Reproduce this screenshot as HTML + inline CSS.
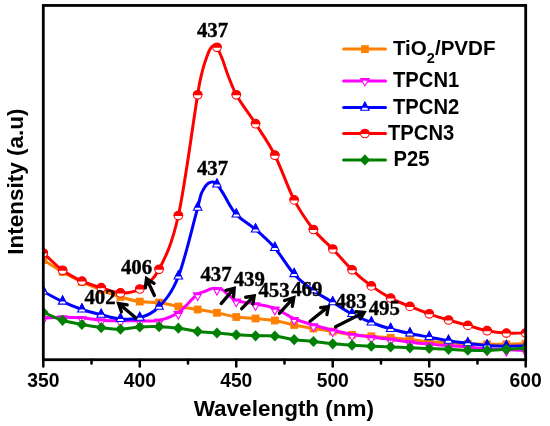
<!DOCTYPE html>
<html><head><meta charset="utf-8"><style>
html,body{margin:0;padding:0;background:#fff;}
body{width:550px;height:426px;overflow:hidden;}
svg{display:block;will-change:transform;filter:blur(0.3px);}
.tk{font-family:"Liberation Sans",sans-serif;font-weight:bold;font-size:19.3px;fill:#000;}
.ax{font-family:"Liberation Sans",sans-serif;font-weight:bold;font-size:22.5px;fill:#000;}
.lg{font-family:"Liberation Sans",sans-serif;font-weight:bold;fill:#000;}
.an{font-family:"Liberation Serif",serif;font-weight:bold;font-size:20.8px;fill:#000;stroke:#000;stroke-width:0.4px;}
</style></head><body>
<svg width="550" height="426" viewBox="0 0 550 426">
<defs><clipPath id="cp"><rect x="43.30" y="5.45" width="482.40" height="354.25"/></clipPath></defs>
<g clip-path="url(#cp)"><path d="M43.30,260.00 C49.73,264.00 56.16,268.33 62.60,272.00 C69.03,275.67 75.46,279.00 81.89,282.00 C88.32,285.00 94.76,287.50 101.19,290.00 C107.62,292.50 114.05,295.07 120.48,297.00 C126.92,298.93 133.35,300.67 139.78,301.60 C146.21,302.53 152.64,301.78 159.08,302.60 C165.51,303.42 171.94,305.35 178.37,306.50 C184.80,307.65 191.24,308.45 197.67,309.50 C204.10,310.55 210.53,311.55 216.96,312.80 C223.40,314.05 229.83,316.05 236.26,317.00 C242.69,317.95 249.12,317.92 255.56,318.50 C261.99,319.08 268.42,319.42 274.85,320.50 C281.28,321.58 287.72,323.67 294.15,325.00 C300.58,326.33 307.01,327.42 313.44,328.50 C319.88,329.58 326.31,330.45 332.74,331.50 C339.17,332.55 345.60,334.00 352.04,334.80 C358.47,335.60 364.90,335.80 371.33,336.30 C377.76,336.80 384.20,337.25 390.63,337.80 C397.06,338.35 403.49,338.93 409.92,339.60 C416.36,340.27 422.79,341.27 429.22,341.80 C435.65,342.33 442.08,342.47 448.52,342.80 C454.95,343.13 461.38,343.55 467.81,343.80 C474.24,344.05 480.68,344.22 487.11,344.30 C493.54,344.38 499.97,344.42 506.40,344.30 C512.84,344.18 519.27,343.83 525.70,343.60" fill="none" stroke="#ff8000" stroke-width="3.00" stroke-linejoin="round" stroke-linecap="round"/><rect x="39.40" y="256.10" width="7.80" height="7.80" fill="#ff8000"/><rect x="58.70" y="268.10" width="7.80" height="7.80" fill="#ff8000"/><rect x="77.99" y="278.10" width="7.80" height="7.80" fill="#ff8000"/><rect x="97.29" y="286.10" width="7.80" height="7.80" fill="#ff8000"/><rect x="116.58" y="293.10" width="7.80" height="7.80" fill="#ff8000"/><rect x="135.88" y="297.70" width="7.80" height="7.80" fill="#ff8000"/><rect x="155.18" y="298.70" width="7.80" height="7.80" fill="#ff8000"/><rect x="174.47" y="302.60" width="7.80" height="7.80" fill="#ff8000"/><rect x="193.77" y="305.60" width="7.80" height="7.80" fill="#ff8000"/><rect x="213.06" y="308.90" width="7.80" height="7.80" fill="#ff8000"/><rect x="232.36" y="313.10" width="7.80" height="7.80" fill="#ff8000"/><rect x="251.66" y="314.60" width="7.80" height="7.80" fill="#ff8000"/><rect x="270.95" y="316.60" width="7.80" height="7.80" fill="#ff8000"/><rect x="290.25" y="321.10" width="7.80" height="7.80" fill="#ff8000"/><rect x="309.54" y="324.60" width="7.80" height="7.80" fill="#ff8000"/><rect x="328.84" y="327.60" width="7.80" height="7.80" fill="#ff8000"/><rect x="348.14" y="330.90" width="7.80" height="7.80" fill="#ff8000"/><rect x="367.43" y="332.40" width="7.80" height="7.80" fill="#ff8000"/><rect x="386.73" y="333.90" width="7.80" height="7.80" fill="#ff8000"/><rect x="406.02" y="335.70" width="7.80" height="7.80" fill="#ff8000"/><rect x="425.32" y="337.90" width="7.80" height="7.80" fill="#ff8000"/><rect x="444.62" y="338.90" width="7.80" height="7.80" fill="#ff8000"/><rect x="463.91" y="339.90" width="7.80" height="7.80" fill="#ff8000"/><rect x="483.21" y="340.40" width="7.80" height="7.80" fill="#ff8000"/><rect x="502.50" y="340.40" width="7.80" height="7.80" fill="#ff8000"/><rect x="521.80" y="339.70" width="7.80" height="7.80" fill="#ff8000"/><path d="M43.30,318.00 C49.73,317.73 56.16,317.23 62.60,317.20 C69.03,317.17 75.46,317.30 81.89,317.80 C88.32,318.30 94.76,319.72 101.19,320.20 C107.62,320.68 114.05,320.62 120.48,320.70 C126.92,320.78 133.35,320.75 139.78,320.70 C146.21,320.65 152.64,321.75 159.08,320.40 C165.51,319.05 171.94,317.00 178.37,312.60 C184.80,308.20 191.24,299.12 197.67,294.00 C200.11,292.05 202.56,292.35 205.00,291.40 C206.67,290.75 208.33,289.76 210.00,289.20 C211.50,288.69 213.00,288.33 214.50,288.20 C215.32,288.13 216.14,288.46 216.96,288.60 C218.64,288.89 220.32,288.60 222.00,289.50 C224.00,290.57 226.00,292.99 228.00,294.50 C230.75,296.59 233.51,299.35 236.26,300.30 C242.69,302.52 249.12,302.65 255.56,304.00 C261.99,305.35 268.42,305.97 274.85,308.40 C281.28,310.83 287.72,315.83 294.15,318.60 C300.58,321.37 307.01,323.07 313.44,325.00 C319.88,326.93 326.31,328.62 332.74,330.20 C339.17,331.78 345.60,333.37 352.04,334.50 C358.47,335.63 364.90,336.18 371.33,337.00 C377.76,337.82 384.20,338.53 390.63,339.40 C397.06,340.27 403.49,341.43 409.92,342.20 C416.36,342.97 422.79,343.40 429.22,344.00 C435.65,344.60 442.08,345.30 448.52,345.80 C454.95,346.30 461.38,346.47 467.81,347.00 C474.24,347.53 480.68,348.53 487.11,349.00 C493.54,349.47 499.97,349.55 506.40,349.80 C512.84,350.05 519.27,350.27 525.70,350.50" fill="none" stroke="#ff00ff" stroke-width="3.00" stroke-linejoin="round" stroke-linecap="round"/><path d="M39.05,316.95 L47.55,316.95 L43.30,324.45 Z" fill="#fff" stroke="#ff00ff" stroke-width="1.10"/><path d="M38.50,316.40 L48.10,316.40 L46.22,319.30 L40.38,319.30 Z" fill="#ff00ff"/><path d="M58.35,316.15 L66.85,316.15 L62.60,323.65 Z" fill="#fff" stroke="#ff00ff" stroke-width="1.10"/><path d="M57.80,315.60 L67.40,315.60 L65.51,318.50 L59.68,318.50 Z" fill="#ff00ff"/><path d="M77.64,316.75 L86.14,316.75 L81.89,324.25 Z" fill="#fff" stroke="#ff00ff" stroke-width="1.10"/><path d="M77.09,316.20 L86.69,316.20 L84.81,319.10 L78.97,319.10 Z" fill="#ff00ff"/><path d="M96.94,319.15 L105.44,319.15 L101.19,326.65 Z" fill="#fff" stroke="#ff00ff" stroke-width="1.10"/><path d="M96.39,318.60 L105.99,318.60 L104.11,321.50 L98.27,321.50 Z" fill="#ff00ff"/><path d="M116.23,319.65 L124.73,319.65 L120.48,327.15 Z" fill="#fff" stroke="#ff00ff" stroke-width="1.10"/><path d="M115.68,319.10 L125.28,319.10 L123.40,322.00 L117.57,322.00 Z" fill="#ff00ff"/><path d="M135.53,319.65 L144.03,319.65 L139.78,327.15 Z" fill="#fff" stroke="#ff00ff" stroke-width="1.10"/><path d="M134.98,319.10 L144.58,319.10 L142.70,322.00 L136.86,322.00 Z" fill="#ff00ff"/><path d="M154.83,319.35 L163.33,319.35 L159.08,326.85 Z" fill="#fff" stroke="#ff00ff" stroke-width="1.10"/><path d="M154.28,318.80 L163.88,318.80 L161.99,321.70 L156.16,321.70 Z" fill="#ff00ff"/><path d="M174.12,311.55 L182.62,311.55 L178.37,319.05 Z" fill="#fff" stroke="#ff00ff" stroke-width="1.10"/><path d="M173.57,311.00 L183.17,311.00 L181.29,313.90 L175.45,313.90 Z" fill="#ff00ff"/><path d="M193.42,292.95 L201.92,292.95 L197.67,300.45 Z" fill="#fff" stroke="#ff00ff" stroke-width="1.10"/><path d="M192.87,292.40 L202.47,292.40 L200.59,295.30 L194.75,295.30 Z" fill="#ff00ff"/><path d="M212.71,287.55 L221.21,287.55 L216.96,295.05 Z" fill="#fff" stroke="#ff00ff" stroke-width="1.10"/><path d="M212.16,287.00 L221.76,287.00 L219.88,289.90 L214.05,289.90 Z" fill="#ff00ff"/><path d="M232.01,299.25 L240.51,299.25 L236.26,306.75 Z" fill="#fff" stroke="#ff00ff" stroke-width="1.10"/><path d="M231.46,298.70 L241.06,298.70 L239.18,301.60 L233.34,301.60 Z" fill="#ff00ff"/><path d="M251.31,302.95 L259.81,302.95 L255.56,310.45 Z" fill="#fff" stroke="#ff00ff" stroke-width="1.10"/><path d="M250.76,302.40 L260.36,302.40 L258.47,305.30 L252.64,305.30 Z" fill="#ff00ff"/><path d="M270.60,307.35 L279.10,307.35 L274.85,314.85 Z" fill="#fff" stroke="#ff00ff" stroke-width="1.10"/><path d="M270.05,306.80 L279.65,306.80 L277.77,309.70 L271.93,309.70 Z" fill="#ff00ff"/><path d="M289.90,317.55 L298.40,317.55 L294.15,325.05 Z" fill="#fff" stroke="#ff00ff" stroke-width="1.10"/><path d="M289.35,317.00 L298.95,317.00 L297.07,319.90 L291.23,319.90 Z" fill="#ff00ff"/><path d="M309.19,323.95 L317.69,323.95 L313.44,331.45 Z" fill="#fff" stroke="#ff00ff" stroke-width="1.10"/><path d="M308.64,323.40 L318.24,323.40 L316.36,326.30 L310.53,326.30 Z" fill="#ff00ff"/><path d="M328.49,329.15 L336.99,329.15 L332.74,336.65 Z" fill="#fff" stroke="#ff00ff" stroke-width="1.10"/><path d="M327.94,328.60 L337.54,328.60 L335.66,331.50 L329.82,331.50 Z" fill="#ff00ff"/><path d="M347.79,333.45 L356.29,333.45 L352.04,340.95 Z" fill="#fff" stroke="#ff00ff" stroke-width="1.10"/><path d="M347.24,332.90 L356.84,332.90 L354.95,335.80 L349.12,335.80 Z" fill="#ff00ff"/><path d="M367.08,335.95 L375.58,335.95 L371.33,343.45 Z" fill="#fff" stroke="#ff00ff" stroke-width="1.10"/><path d="M366.53,335.40 L376.13,335.40 L374.25,338.30 L368.41,338.30 Z" fill="#ff00ff"/><path d="M386.38,338.35 L394.88,338.35 L390.63,345.85 Z" fill="#fff" stroke="#ff00ff" stroke-width="1.10"/><path d="M385.83,337.80 L395.43,337.80 L393.55,340.70 L387.71,340.70 Z" fill="#ff00ff"/><path d="M405.67,341.15 L414.17,341.15 L409.92,348.65 Z" fill="#fff" stroke="#ff00ff" stroke-width="1.10"/><path d="M405.12,340.60 L414.72,340.60 L412.84,343.50 L407.01,343.50 Z" fill="#ff00ff"/><path d="M424.97,342.95 L433.47,342.95 L429.22,350.45 Z" fill="#fff" stroke="#ff00ff" stroke-width="1.10"/><path d="M424.42,342.40 L434.02,342.40 L432.14,345.30 L426.30,345.30 Z" fill="#ff00ff"/><path d="M444.27,344.75 L452.77,344.75 L448.52,352.25 Z" fill="#fff" stroke="#ff00ff" stroke-width="1.10"/><path d="M443.72,344.20 L453.32,344.20 L451.43,347.10 L445.60,347.10 Z" fill="#ff00ff"/><path d="M463.56,345.95 L472.06,345.95 L467.81,353.45 Z" fill="#fff" stroke="#ff00ff" stroke-width="1.10"/><path d="M463.01,345.40 L472.61,345.40 L470.73,348.30 L464.89,348.30 Z" fill="#ff00ff"/><path d="M482.86,347.95 L491.36,347.95 L487.11,355.45 Z" fill="#fff" stroke="#ff00ff" stroke-width="1.10"/><path d="M482.31,347.40 L491.91,347.40 L490.03,350.30 L484.19,350.30 Z" fill="#ff00ff"/><path d="M502.15,348.75 L510.65,348.75 L506.40,356.25 Z" fill="#fff" stroke="#ff00ff" stroke-width="1.10"/><path d="M501.60,348.20 L511.20,348.20 L509.32,351.10 L503.49,351.10 Z" fill="#ff00ff"/><path d="M521.45,349.45 L529.95,349.45 L525.70,356.95 Z" fill="#fff" stroke="#ff00ff" stroke-width="1.10"/><path d="M520.90,348.90 L530.50,348.90 L528.62,351.80 L522.78,351.80 Z" fill="#ff00ff"/><path d="M43.30,291.50 C49.73,294.90 56.16,298.70 62.60,301.70 C69.03,304.70 75.46,307.32 81.89,309.50 C88.32,311.68 94.76,313.22 101.19,314.80 C107.62,316.38 114.05,318.50 120.48,319.00 C126.92,319.50 133.35,319.83 139.78,317.80 C146.21,315.77 152.64,313.68 159.08,306.80 C165.51,299.92 171.94,293.00 178.37,276.50 C184.80,260.00 191.24,231.11 197.67,207.80 C198.78,203.78 199.89,197.94 201.00,194.50 C201.93,191.61 202.87,190.39 203.80,188.80 C204.80,187.09 205.80,185.60 206.80,184.60 C207.93,183.47 209.07,182.86 210.20,182.40 C211.20,181.99 212.20,181.67 213.20,182.00 C214.45,182.41 215.71,183.16 216.96,184.60 C219.08,187.03 221.19,190.21 223.30,193.60 C225.30,196.81 227.30,201.16 229.30,204.40 C231.62,208.16 233.94,212.38 236.26,214.60 C242.69,220.75 249.12,223.93 255.56,229.50 C261.99,235.07 268.42,240.55 274.85,248.00 C281.28,255.45 287.72,267.12 294.15,274.20 C300.58,281.28 307.01,285.82 313.44,290.50 C319.88,295.18 326.31,298.38 332.74,302.30 C339.17,306.22 345.60,310.63 352.04,314.00 C358.47,317.37 364.90,320.00 371.33,322.50 C377.76,325.00 384.20,327.17 390.63,329.00 C397.06,330.83 403.49,332.13 409.92,333.50 C416.36,334.87 422.79,335.98 429.22,337.20 C435.65,338.42 442.08,339.78 448.52,340.80 C454.95,341.82 461.38,342.52 467.81,343.30 C474.24,344.08 480.68,345.02 487.11,345.50 C493.54,345.98 499.97,346.12 506.40,346.20 C512.84,346.28 519.27,346.07 525.70,346.00" fill="none" stroke="#0000ff" stroke-width="3.00" stroke-linejoin="round" stroke-linecap="round"/><path d="M43.30,285.85 L47.55,293.95 L39.05,293.95 Z" fill="#fff" stroke="#0000ff" stroke-width="1.10" stroke-linejoin="miter"/><path d="M43.30,284.85 L46.81,291.40 L39.79,291.40 Z" fill="#0000ff"/><path d="M62.60,296.05 L66.85,304.15 L58.35,304.15 Z" fill="#fff" stroke="#0000ff" stroke-width="1.10" stroke-linejoin="miter"/><path d="M62.60,295.05 L66.11,301.60 L59.08,301.60 Z" fill="#0000ff"/><path d="M81.89,303.85 L86.14,311.95 L77.64,311.95 Z" fill="#fff" stroke="#0000ff" stroke-width="1.10" stroke-linejoin="miter"/><path d="M81.89,302.85 L85.40,309.40 L78.38,309.40 Z" fill="#0000ff"/><path d="M101.19,309.15 L105.44,317.25 L96.94,317.25 Z" fill="#fff" stroke="#0000ff" stroke-width="1.10" stroke-linejoin="miter"/><path d="M101.19,308.15 L104.70,314.70 L97.68,314.70 Z" fill="#0000ff"/><path d="M120.48,313.35 L124.73,321.45 L116.23,321.45 Z" fill="#fff" stroke="#0000ff" stroke-width="1.10" stroke-linejoin="miter"/><path d="M120.48,312.35 L124.00,318.90 L116.97,318.90 Z" fill="#0000ff"/><path d="M139.78,312.15 L144.03,320.25 L135.53,320.25 Z" fill="#fff" stroke="#0000ff" stroke-width="1.10" stroke-linejoin="miter"/><path d="M139.78,311.15 L143.29,317.70 L136.27,317.70 Z" fill="#0000ff"/><path d="M159.08,301.15 L163.33,309.25 L154.83,309.25 Z" fill="#fff" stroke="#0000ff" stroke-width="1.10" stroke-linejoin="miter"/><path d="M159.08,300.15 L162.59,306.70 L155.56,306.70 Z" fill="#0000ff"/><path d="M178.37,270.85 L182.62,278.95 L174.12,278.95 Z" fill="#fff" stroke="#0000ff" stroke-width="1.10" stroke-linejoin="miter"/><path d="M178.37,269.85 L181.88,276.40 L174.86,276.40 Z" fill="#0000ff"/><path d="M197.67,202.15 L201.92,210.25 L193.42,210.25 Z" fill="#fff" stroke="#0000ff" stroke-width="1.10" stroke-linejoin="miter"/><path d="M197.67,201.15 L201.18,207.70 L194.16,207.70 Z" fill="#0000ff"/><path d="M216.96,178.95 L221.21,187.05 L212.71,187.05 Z" fill="#fff" stroke="#0000ff" stroke-width="1.10" stroke-linejoin="miter"/><path d="M216.96,177.95 L220.48,184.50 L213.45,184.50 Z" fill="#0000ff"/><path d="M236.26,208.95 L240.51,217.05 L232.01,217.05 Z" fill="#fff" stroke="#0000ff" stroke-width="1.10" stroke-linejoin="miter"/><path d="M236.26,207.95 L239.77,214.50 L232.75,214.50 Z" fill="#0000ff"/><path d="M255.56,223.85 L259.81,231.95 L251.31,231.95 Z" fill="#fff" stroke="#0000ff" stroke-width="1.10" stroke-linejoin="miter"/><path d="M255.56,222.85 L259.07,229.40 L252.04,229.40 Z" fill="#0000ff"/><path d="M274.85,242.35 L279.10,250.45 L270.60,250.45 Z" fill="#fff" stroke="#0000ff" stroke-width="1.10" stroke-linejoin="miter"/><path d="M274.85,241.35 L278.36,247.90 L271.34,247.90 Z" fill="#0000ff"/><path d="M294.15,268.55 L298.40,276.65 L289.90,276.65 Z" fill="#fff" stroke="#0000ff" stroke-width="1.10" stroke-linejoin="miter"/><path d="M294.15,267.55 L297.66,274.10 L290.64,274.10 Z" fill="#0000ff"/><path d="M313.44,284.85 L317.69,292.95 L309.19,292.95 Z" fill="#fff" stroke="#0000ff" stroke-width="1.10" stroke-linejoin="miter"/><path d="M313.44,283.85 L316.96,290.40 L309.93,290.40 Z" fill="#0000ff"/><path d="M332.74,296.65 L336.99,304.75 L328.49,304.75 Z" fill="#fff" stroke="#0000ff" stroke-width="1.10" stroke-linejoin="miter"/><path d="M332.74,295.65 L336.25,302.20 L329.23,302.20 Z" fill="#0000ff"/><path d="M352.04,308.35 L356.29,316.45 L347.79,316.45 Z" fill="#fff" stroke="#0000ff" stroke-width="1.10" stroke-linejoin="miter"/><path d="M352.04,307.35 L355.55,313.90 L348.52,313.90 Z" fill="#0000ff"/><path d="M371.33,316.85 L375.58,324.95 L367.08,324.95 Z" fill="#fff" stroke="#0000ff" stroke-width="1.10" stroke-linejoin="miter"/><path d="M371.33,315.85 L374.84,322.40 L367.82,322.40 Z" fill="#0000ff"/><path d="M390.63,323.35 L394.88,331.45 L386.38,331.45 Z" fill="#fff" stroke="#0000ff" stroke-width="1.10" stroke-linejoin="miter"/><path d="M390.63,322.35 L394.14,328.90 L387.12,328.90 Z" fill="#0000ff"/><path d="M409.92,327.85 L414.17,335.95 L405.67,335.95 Z" fill="#fff" stroke="#0000ff" stroke-width="1.10" stroke-linejoin="miter"/><path d="M409.92,326.85 L413.44,333.40 L406.41,333.40 Z" fill="#0000ff"/><path d="M429.22,331.55 L433.47,339.65 L424.97,339.65 Z" fill="#fff" stroke="#0000ff" stroke-width="1.10" stroke-linejoin="miter"/><path d="M429.22,330.55 L432.73,337.10 L425.71,337.10 Z" fill="#0000ff"/><path d="M448.52,335.15 L452.77,343.25 L444.27,343.25 Z" fill="#fff" stroke="#0000ff" stroke-width="1.10" stroke-linejoin="miter"/><path d="M448.52,334.15 L452.03,340.70 L445.00,340.70 Z" fill="#0000ff"/><path d="M467.81,337.65 L472.06,345.75 L463.56,345.75 Z" fill="#fff" stroke="#0000ff" stroke-width="1.10" stroke-linejoin="miter"/><path d="M467.81,336.65 L471.32,343.20 L464.30,343.20 Z" fill="#0000ff"/><path d="M487.11,339.85 L491.36,347.95 L482.86,347.95 Z" fill="#fff" stroke="#0000ff" stroke-width="1.10" stroke-linejoin="miter"/><path d="M487.11,338.85 L490.62,345.40 L483.60,345.40 Z" fill="#0000ff"/><path d="M506.40,340.55 L510.65,348.65 L502.15,348.65 Z" fill="#fff" stroke="#0000ff" stroke-width="1.10" stroke-linejoin="miter"/><path d="M506.40,339.55 L509.92,346.10 L502.89,346.10 Z" fill="#0000ff"/><path d="M525.70,340.35 L529.95,348.45 L521.45,348.45 Z" fill="#fff" stroke="#0000ff" stroke-width="1.10" stroke-linejoin="miter"/><path d="M525.70,339.35 L529.21,345.90 L522.19,345.90 Z" fill="#0000ff"/><path d="M43.30,253.00 C49.73,258.77 56.16,265.62 62.60,270.30 C69.03,274.98 75.46,278.20 81.89,281.10 C88.32,284.00 94.76,285.73 101.19,287.70 C107.62,289.67 114.05,292.68 120.48,292.90 C126.92,293.12 133.35,292.93 139.78,289.00 C146.21,285.07 152.64,281.55 159.08,269.30 C165.51,257.05 171.94,244.58 178.37,215.50 C184.80,186.42 191.24,134.81 197.67,94.80 C198.41,90.17 199.16,85.20 199.90,81.60 C201.07,75.96 202.23,71.26 203.40,67.10 C204.60,62.82 205.80,59.60 207.00,56.30 C207.93,53.73 208.87,51.11 209.80,49.50 C210.93,47.54 212.07,45.95 213.20,45.60 C214.45,45.21 215.71,45.40 216.96,47.30 C218.84,50.14 220.72,55.03 222.60,59.80 C224.27,64.03 225.93,70.03 227.60,74.30 C230.49,81.70 233.37,89.70 236.26,94.80 C242.69,106.17 249.12,113.63 255.56,123.70 C261.99,133.77 268.42,142.50 274.85,155.20 C281.28,167.90 287.72,187.52 294.15,199.90 C300.58,212.28 307.01,221.32 313.44,229.50 C319.88,237.68 326.31,242.28 332.74,249.00 C339.17,255.72 345.60,263.65 352.04,269.80 C358.47,275.95 364.90,281.18 371.33,285.90 C377.76,290.62 384.20,294.68 390.63,298.10 C397.06,301.52 403.49,303.78 409.92,306.40 C416.36,309.02 422.79,311.53 429.22,313.80 C435.65,316.07 442.08,318.07 448.52,320.00 C454.95,321.93 461.38,323.62 467.81,325.40 C474.24,327.18 480.68,329.42 487.11,330.70 C493.54,331.98 499.97,332.72 506.40,333.10 C512.84,333.48 519.27,333.03 525.70,333.00" fill="none" stroke="#ff0000" stroke-width="3.00" stroke-linejoin="round" stroke-linecap="round"/><circle cx="43.30" cy="253.00" r="4.30" fill="#fff" stroke="#ff0000" stroke-width="1.10"/><path d="M38.45,253.50 A4.85,4.85 0 0 1 48.15,253.50 Z" fill="#ff0000"/><circle cx="62.60" cy="270.30" r="4.30" fill="#fff" stroke="#ff0000" stroke-width="1.10"/><path d="M57.75,270.80 A4.85,4.85 0 0 1 67.45,270.80 Z" fill="#ff0000"/><circle cx="81.89" cy="281.10" r="4.30" fill="#fff" stroke="#ff0000" stroke-width="1.10"/><path d="M77.04,281.60 A4.85,4.85 0 0 1 86.74,281.60 Z" fill="#ff0000"/><circle cx="101.19" cy="287.70" r="4.30" fill="#fff" stroke="#ff0000" stroke-width="1.10"/><path d="M96.34,288.20 A4.85,4.85 0 0 1 106.04,288.20 Z" fill="#ff0000"/><circle cx="120.48" cy="292.90" r="4.30" fill="#fff" stroke="#ff0000" stroke-width="1.10"/><path d="M115.63,293.40 A4.85,4.85 0 0 1 125.33,293.40 Z" fill="#ff0000"/><circle cx="139.78" cy="289.00" r="4.30" fill="#fff" stroke="#ff0000" stroke-width="1.10"/><path d="M134.93,289.50 A4.85,4.85 0 0 1 144.63,289.50 Z" fill="#ff0000"/><circle cx="159.08" cy="269.30" r="4.30" fill="#fff" stroke="#ff0000" stroke-width="1.10"/><path d="M154.23,269.80 A4.85,4.85 0 0 1 163.93,269.80 Z" fill="#ff0000"/><circle cx="178.37" cy="215.50" r="4.30" fill="#fff" stroke="#ff0000" stroke-width="1.10"/><path d="M173.52,216.00 A4.85,4.85 0 0 1 183.22,216.00 Z" fill="#ff0000"/><circle cx="197.67" cy="94.80" r="4.30" fill="#fff" stroke="#ff0000" stroke-width="1.10"/><path d="M192.82,95.30 A4.85,4.85 0 0 1 202.52,95.30 Z" fill="#ff0000"/><circle cx="216.96" cy="47.30" r="4.30" fill="#fff" stroke="#ff0000" stroke-width="1.10"/><path d="M212.11,47.80 A4.85,4.85 0 0 1 221.81,47.80 Z" fill="#ff0000"/><circle cx="236.26" cy="94.80" r="4.30" fill="#fff" stroke="#ff0000" stroke-width="1.10"/><path d="M231.41,95.30 A4.85,4.85 0 0 1 241.11,95.30 Z" fill="#ff0000"/><circle cx="255.56" cy="123.70" r="4.30" fill="#fff" stroke="#ff0000" stroke-width="1.10"/><path d="M250.71,124.20 A4.85,4.85 0 0 1 260.41,124.20 Z" fill="#ff0000"/><circle cx="274.85" cy="155.20" r="4.30" fill="#fff" stroke="#ff0000" stroke-width="1.10"/><path d="M270.00,155.70 A4.85,4.85 0 0 1 279.70,155.70 Z" fill="#ff0000"/><circle cx="294.15" cy="199.90" r="4.30" fill="#fff" stroke="#ff0000" stroke-width="1.10"/><path d="M289.30,200.40 A4.85,4.85 0 0 1 299.00,200.40 Z" fill="#ff0000"/><circle cx="313.44" cy="229.50" r="4.30" fill="#fff" stroke="#ff0000" stroke-width="1.10"/><path d="M308.59,230.00 A4.85,4.85 0 0 1 318.29,230.00 Z" fill="#ff0000"/><circle cx="332.74" cy="249.00" r="4.30" fill="#fff" stroke="#ff0000" stroke-width="1.10"/><path d="M327.89,249.50 A4.85,4.85 0 0 1 337.59,249.50 Z" fill="#ff0000"/><circle cx="352.04" cy="269.80" r="4.30" fill="#fff" stroke="#ff0000" stroke-width="1.10"/><path d="M347.19,270.30 A4.85,4.85 0 0 1 356.89,270.30 Z" fill="#ff0000"/><circle cx="371.33" cy="285.90" r="4.30" fill="#fff" stroke="#ff0000" stroke-width="1.10"/><path d="M366.48,286.40 A4.85,4.85 0 0 1 376.18,286.40 Z" fill="#ff0000"/><circle cx="390.63" cy="298.10" r="4.30" fill="#fff" stroke="#ff0000" stroke-width="1.10"/><path d="M385.78,298.60 A4.85,4.85 0 0 1 395.48,298.60 Z" fill="#ff0000"/><circle cx="409.92" cy="306.40" r="4.30" fill="#fff" stroke="#ff0000" stroke-width="1.10"/><path d="M405.07,306.90 A4.85,4.85 0 0 1 414.77,306.90 Z" fill="#ff0000"/><circle cx="429.22" cy="313.80" r="4.30" fill="#fff" stroke="#ff0000" stroke-width="1.10"/><path d="M424.37,314.30 A4.85,4.85 0 0 1 434.07,314.30 Z" fill="#ff0000"/><circle cx="448.52" cy="320.00" r="4.30" fill="#fff" stroke="#ff0000" stroke-width="1.10"/><path d="M443.67,320.50 A4.85,4.85 0 0 1 453.37,320.50 Z" fill="#ff0000"/><circle cx="467.81" cy="325.40" r="4.30" fill="#fff" stroke="#ff0000" stroke-width="1.10"/><path d="M462.96,325.90 A4.85,4.85 0 0 1 472.66,325.90 Z" fill="#ff0000"/><circle cx="487.11" cy="330.70" r="4.30" fill="#fff" stroke="#ff0000" stroke-width="1.10"/><path d="M482.26,331.20 A4.85,4.85 0 0 1 491.96,331.20 Z" fill="#ff0000"/><circle cx="506.40" cy="333.10" r="4.30" fill="#fff" stroke="#ff0000" stroke-width="1.10"/><path d="M501.55,333.60 A4.85,4.85 0 0 1 511.25,333.60 Z" fill="#ff0000"/><circle cx="525.70" cy="333.00" r="4.30" fill="#fff" stroke="#ff0000" stroke-width="1.10"/><path d="M520.85,333.50 A4.85,4.85 0 0 1 530.55,333.50 Z" fill="#ff0000"/><path d="M43.30,312.30 C49.73,314.97 56.16,318.27 62.60,320.30 C69.03,322.33 75.46,323.28 81.89,324.50 C88.32,325.72 94.76,326.82 101.19,327.60 C107.62,328.38 114.05,329.30 120.48,329.20 C126.92,329.10 133.35,327.42 139.78,327.00 C146.21,326.58 152.64,326.50 159.08,326.70 C165.51,326.90 171.94,327.42 178.37,328.20 C184.80,328.98 191.24,330.60 197.67,331.40 C204.10,332.20 210.53,332.43 216.96,333.00 C223.40,333.57 229.83,334.33 236.26,334.80 C242.69,335.27 249.12,335.60 255.56,335.80 C261.99,336.00 268.42,335.35 274.85,336.00 C281.28,336.65 287.72,338.78 294.15,339.70 C300.58,340.62 307.01,340.82 313.44,341.50 C319.88,342.18 326.31,343.18 332.74,343.80 C339.17,344.42 345.60,344.80 352.04,345.20 C358.47,345.60 364.90,345.92 371.33,346.20 C377.76,346.48 384.20,346.63 390.63,346.90 C397.06,347.17 403.49,347.53 409.92,347.80 C416.36,348.07 422.79,348.25 429.22,348.50 C435.65,348.75 442.08,349.02 448.52,349.30 C454.95,349.58 461.38,350.02 467.81,350.20 C474.24,350.38 480.68,350.55 487.11,350.40 C493.54,350.25 499.97,349.65 506.40,349.30 C512.84,348.95 519.27,348.63 525.70,348.30" fill="none" stroke="#008000" stroke-width="3.00" stroke-linejoin="round" stroke-linecap="round"/><path d="M43.30,306.70 L48.60,312.30 L43.30,317.90 L38.00,312.30 Z" fill="#008000"/><path d="M62.60,314.70 L67.90,320.30 L62.60,325.90 L57.30,320.30 Z" fill="#008000"/><path d="M81.89,318.90 L87.19,324.50 L81.89,330.10 L76.59,324.50 Z" fill="#008000"/><path d="M101.19,322.00 L106.49,327.60 L101.19,333.20 L95.89,327.60 Z" fill="#008000"/><path d="M120.48,323.60 L125.78,329.20 L120.48,334.80 L115.18,329.20 Z" fill="#008000"/><path d="M139.78,321.40 L145.08,327.00 L139.78,332.60 L134.48,327.00 Z" fill="#008000"/><path d="M159.08,321.10 L164.38,326.70 L159.08,332.30 L153.78,326.70 Z" fill="#008000"/><path d="M178.37,322.60 L183.67,328.20 L178.37,333.80 L173.07,328.20 Z" fill="#008000"/><path d="M197.67,325.80 L202.97,331.40 L197.67,337.00 L192.37,331.40 Z" fill="#008000"/><path d="M216.96,327.40 L222.26,333.00 L216.96,338.60 L211.66,333.00 Z" fill="#008000"/><path d="M236.26,329.20 L241.56,334.80 L236.26,340.40 L230.96,334.80 Z" fill="#008000"/><path d="M255.56,330.20 L260.86,335.80 L255.56,341.40 L250.26,335.80 Z" fill="#008000"/><path d="M274.85,330.40 L280.15,336.00 L274.85,341.60 L269.55,336.00 Z" fill="#008000"/><path d="M294.15,334.10 L299.45,339.70 L294.15,345.30 L288.85,339.70 Z" fill="#008000"/><path d="M313.44,335.90 L318.74,341.50 L313.44,347.10 L308.14,341.50 Z" fill="#008000"/><path d="M332.74,338.20 L338.04,343.80 L332.74,349.40 L327.44,343.80 Z" fill="#008000"/><path d="M352.04,339.60 L357.34,345.20 L352.04,350.80 L346.74,345.20 Z" fill="#008000"/><path d="M371.33,340.60 L376.63,346.20 L371.33,351.80 L366.03,346.20 Z" fill="#008000"/><path d="M390.63,341.30 L395.93,346.90 L390.63,352.50 L385.33,346.90 Z" fill="#008000"/><path d="M409.92,342.20 L415.22,347.80 L409.92,353.40 L404.62,347.80 Z" fill="#008000"/><path d="M429.22,342.90 L434.52,348.50 L429.22,354.10 L423.92,348.50 Z" fill="#008000"/><path d="M448.52,343.70 L453.82,349.30 L448.52,354.90 L443.22,349.30 Z" fill="#008000"/><path d="M467.81,344.60 L473.11,350.20 L467.81,355.80 L462.51,350.20 Z" fill="#008000"/><path d="M487.11,344.80 L492.41,350.40 L487.11,356.00 L481.81,350.40 Z" fill="#008000"/><path d="M506.40,343.70 L511.70,349.30 L506.40,354.90 L501.10,349.30 Z" fill="#008000"/><path d="M525.70,342.70 L531.00,348.30 L525.70,353.90 L520.40,348.30 Z" fill="#008000"/></g>
<rect x="43.30" y="5.45" width="482.40" height="354.25" fill="none" stroke="#000" stroke-width="2.8"/>
<line x1="43.30" y1="359.70" x2="43.30" y2="366.40" stroke="#000" stroke-width="2.5" stroke-linecap="round"/>
<line x1="91.54" y1="359.70" x2="91.54" y2="363.40" stroke="#000" stroke-width="2.5" stroke-linecap="round"/>
<line x1="139.78" y1="359.70" x2="139.78" y2="366.40" stroke="#000" stroke-width="2.5" stroke-linecap="round"/>
<line x1="188.02" y1="359.70" x2="188.02" y2="363.40" stroke="#000" stroke-width="2.5" stroke-linecap="round"/>
<line x1="236.26" y1="359.70" x2="236.26" y2="366.40" stroke="#000" stroke-width="2.5" stroke-linecap="round"/>
<line x1="284.50" y1="359.70" x2="284.50" y2="363.40" stroke="#000" stroke-width="2.5" stroke-linecap="round"/>
<line x1="332.74" y1="359.70" x2="332.74" y2="366.40" stroke="#000" stroke-width="2.5" stroke-linecap="round"/>
<line x1="380.98" y1="359.70" x2="380.98" y2="363.40" stroke="#000" stroke-width="2.5" stroke-linecap="round"/>
<line x1="429.22" y1="359.70" x2="429.22" y2="366.40" stroke="#000" stroke-width="2.5" stroke-linecap="round"/>
<line x1="477.46" y1="359.70" x2="477.46" y2="363.40" stroke="#000" stroke-width="2.5" stroke-linecap="round"/>
<line x1="525.70" y1="359.70" x2="525.70" y2="366.40" stroke="#000" stroke-width="2.5" stroke-linecap="round"/>
<text transform="translate(43.30,387.2) scale(1,1.045)" text-anchor="middle" class="tk">350</text>
<text transform="translate(139.78,387.2) scale(1,1.045)" text-anchor="middle" class="tk">400</text>
<text transform="translate(236.26,387.2) scale(1,1.045)" text-anchor="middle" class="tk">450</text>
<text transform="translate(332.74,387.2) scale(1,1.045)" text-anchor="middle" class="tk">500</text>
<text transform="translate(429.22,387.2) scale(1,1.045)" text-anchor="middle" class="tk">550</text>
<text transform="translate(525.70,387.2) scale(1,1.045)" text-anchor="middle" class="tk">600</text>
<text x="283.9" y="416.2" text-anchor="middle" class="ax">Wavelength (nm)</text>
<text transform="translate(22.5,181.6) rotate(-90)" text-anchor="middle" class="ax">Intensity (a.u)</text>
<line x1="343.6" y1="48.90" x2="385.5" y2="48.90" stroke="#ff8000" stroke-width="3.00" stroke-linecap="round"/>
<rect x="361.00" y="45.20" width="7.80" height="7.80" fill="#ff8000"/>
<text transform="translate(392.90,55.40) scale(1,1.020)" class="lg" font-size="20.6">TiO<tspan font-size="14.5" dy="7.7">2</tspan><tspan dy="-7.7">/PVDF</tspan></text>
<line x1="343.6" y1="81.00" x2="385.5" y2="81.00" stroke="#ff00ff" stroke-width="3.00" stroke-linecap="round"/>
<path d="M360.65,78.45 L369.15,78.45 L364.90,85.95 Z" fill="#fff" stroke="#ff00ff" stroke-width="1.10"/><path d="M360.10,77.90 L369.70,77.90 L367.82,80.80 L361.98,80.80 Z" fill="#ff00ff"/>
<text transform="translate(393.00,87.20) scale(1,1.070)" class="lg" font-size="20.2">TPCN1</text>
<line x1="343.6" y1="107.60" x2="385.5" y2="107.60" stroke="#0000ff" stroke-width="3.00" stroke-linecap="round"/>
<path d="M364.90,102.15 L369.15,110.25 L360.65,110.25 Z" fill="#fff" stroke="#0000ff" stroke-width="1.10" stroke-linejoin="miter"/><path d="M364.90,101.15 L368.41,107.70 L361.39,107.70 Z" fill="#0000ff"/>
<text transform="translate(393.00,114.40) scale(1,1.070)" class="lg" font-size="20.2">TPCN2</text>
<line x1="343.6" y1="133.50" x2="385.5" y2="133.50" stroke="#ff0000" stroke-width="3.00" stroke-linecap="round"/>
<circle cx="364.90" cy="133.50" r="4.30" fill="#fff" stroke="#ff0000" stroke-width="1.10"/><path d="M360.05,134.00 A4.85,4.85 0 0 1 369.75,134.00 Z" fill="#ff0000"/>
<text transform="translate(388.00,139.80) scale(1,1.070)" class="lg" font-size="20.2">TPCN3</text>
<line x1="343.6" y1="159.90" x2="385.5" y2="159.90" stroke="#008000" stroke-width="3.00" stroke-linecap="round"/>
<path d="M364.90,154.30 L370.20,159.90 L364.90,165.50 L359.60,159.90 Z" fill="#008000"/>
<text transform="translate(393.60,166.00) scale(1,1.070)" class="lg" font-size="20.2">P25</text>
<text x="212.50" y="36.50" text-anchor="middle" class="an">437</text>
<text x="212.50" y="174.50" text-anchor="middle" class="an">437</text>
<text x="136.50" y="274.00" text-anchor="middle" class="an">406</text>
<text x="100.00" y="303.50" text-anchor="middle" class="an">402</text>
<text x="216.00" y="281.20" text-anchor="middle" class="an">437</text>
<text x="249.30" y="286.30" text-anchor="middle" class="an">439</text>
<text x="274.00" y="297.20" text-anchor="middle" class="an">453</text>
<text x="306.80" y="295.60" text-anchor="middle" class="an">469</text>
<text x="351.00" y="308.00" text-anchor="middle" class="an">483</text>
<text x="384.30" y="314.50" text-anchor="middle" class="an">495</text>
<path d="M154.41,295.50 L146.49,278.46 M145.39,287.76 L146.49,278.46 L154.01,283.31" fill="none" stroke="#000" stroke-width="3.30" stroke-linecap="round" stroke-linejoin="miter" stroke-miterlimit="6"/>
<path d="M136.03,317.95 L118.60,303.56 M127.17,304.94 L118.60,303.56 L121.38,311.84" fill="none" stroke="#000" stroke-width="3.30" stroke-linecap="round" stroke-linejoin="miter" stroke-miterlimit="6"/>
<path d="M221.17,303.55 L234.21,288.37 M226.01,290.32 L234.21,288.37 L233.53,296.76" fill="none" stroke="#000" stroke-width="3.30" stroke-linecap="round" stroke-linejoin="miter" stroke-miterlimit="6"/>
<path d="M241.75,308.72 L254.19,295.96 M245.73,297.25 L254.19,295.96 L252.87,303.97" fill="none" stroke="#000" stroke-width="3.30" stroke-linecap="round" stroke-linejoin="miter" stroke-miterlimit="6"/>
<path d="M279.32,313.39 L293.83,297.71 M284.58,300.52 L293.83,297.71 L292.29,306.38" fill="none" stroke="#000" stroke-width="3.30" stroke-linecap="round" stroke-linejoin="miter" stroke-miterlimit="6"/>
<path d="M310.09,321.17 L328.37,306.62 M320.64,307.59 L328.37,306.62 L326.90,314.58" fill="none" stroke="#000" stroke-width="3.30" stroke-linecap="round" stroke-linejoin="miter" stroke-miterlimit="6"/>
<path d="M335.57,326.76 L364.08,312.37 M355.75,311.73 L364.08,312.37 L360.33,318.87" fill="none" stroke="#000" stroke-width="3.30" stroke-linecap="round" stroke-linejoin="miter" stroke-miterlimit="6"/>
</svg>
</body></html>
